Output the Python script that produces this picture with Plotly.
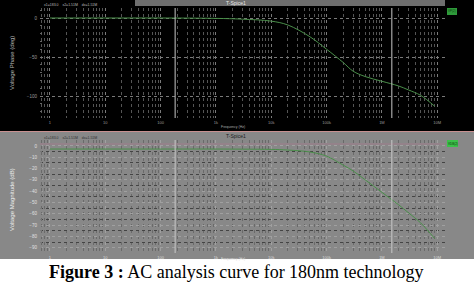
import plotly.graph_objects as go

# ---- data ----
freq_hz = [1, 10, 100, 1e3, 3e3, 1e4, 2e4, 5e4, 1e5, 2e5, 3e5, 5e5, 1e6, 2e6, 3e6, 5e6, 9e6]
phase_deg = [0, 0, 0, -0.5, -1.5, -4, -9, -24, -40, -57, -68, -75, -81, -87, -92, -99, -113]
mag_db = [-2.7, -2.7, -2.7, -2.7, -2.8, -3.0, -3.6, -5.3, -9, -17, -22, -30, -41, -52, -59, -68, -82]

x_tickvals = [1, 10, 100, 1e3, 1e4, 1e5, 1e6, 1e7]
x_ticktext = ["1", "10", "100", "1k", "10k", "100k", "1M", "10M"]
phase_ticks = [0, -50, -100]
mag_ticks = [0, -10, -20, -30, -40, -50, -60, -70, -80, -90]
cursor_hz = [183.0, 1.51e6]

W, H = 474, 282
def py(p):
    return 1 - p / H
def px(p):
    return p / W

fig = go.Figure()
fig.add_trace(go.Scatter(x=freq_hz, y=phase_deg, mode="lines", line=dict(color="#4a8f4a", width=1, shape="spline"),
                         xaxis="x", yaxis="y", showlegend=False))
fig.add_trace(go.Scatter(x=freq_hz, y=mag_db, mode="lines", line=dict(color="#4a8f4a", width=1, shape="spline"),
                         xaxis="x2", yaxis="y2", showlegend=False))

xcommon = dict(type="log", range=[-0.18, 7.14], tickvals=x_tickvals, ticktext=x_ticktext,
               showgrid=True, griddash="dot", gridwidth=1, zeroline=False, showline=False,
               ticks="", ticklabelstandoff=1,
               minor=dict(dtick="D1", showgrid=True, griddash="dot", gridwidth=1))

fig.update_layout(
    width=W, height=H, margin=dict(l=0, r=0, t=0, b=0),
    paper_bgcolor="white", plot_bgcolor="black",
    xaxis=dict(**xcommon, domain=[px(40), px(445)], anchor="y",
               gridcolor="#7a7a7a", minor_gridcolor="#555555",
               tickfont=dict(size=4, color="#9a9a9a", family="Liberation Sans")),
    yaxis=dict(domain=[py(118), py(8)], range=[-128, 12.8], anchor="x", tickvals=phase_ticks,
               showgrid=True, gridcolor="#7a7a7a", griddash="dot", zeroline=False, showline=False,
               ticks="inside", ticklen=2, tickcolor="#777", ticklabelstandoff=2,
               minor=dict(dtick=10, ticks="inside", ticklen=1.5, tickcolor="#666", showgrid=False),
               tickfont=dict(size=4.5, color="#9a9a9a", family="Liberation Sans")),
    xaxis2=dict(**xcommon, domain=[px(40), px(445)], anchor="y2",
                gridcolor="#a0a0a0", minor_gridcolor="#6a6a6a",
                tickfont=dict(size=4, color="#dddddd", family="Liberation Sans")),
    yaxis2=dict(domain=[py(253), py(140)], range=[-94.7, 5.3], anchor="x2", tickvals=mag_ticks,
                showgrid=True, gridcolor="#a0a0a0", griddash="dot", zeroline=False, showline=False,
                ticks="inside", ticklen=2, tickcolor="#888", ticklabelstandoff=2,
                minor=dict(dtick=5, ticks="inside", ticklen=1.5, tickcolor="#777", showgrid=True,
                           gridcolor="#444444", griddash="dot"),
                tickfont=dict(size=4.5, color="#e0e0e0", family="Liberation Sans")),
)

shapes = [
    dict(type="rect", xref="paper", yref="paper", x0=0, x1=1, y0=py(131), y1=1,
         fillcolor="black", line_width=0, layer="below"),
    dict(type="rect", xref="paper", yref="paper", x0=px(135), x1=px(445), y0=py(6), y1=1,
         fillcolor="#6e6e6e", line_width=0, layer="below"),
    dict(type="rect", xref="paper", yref="paper", x0=0, x1=1, y0=py(259), y1=py(131),
         fillcolor="#888888", line_width=0, layer="below"),
    dict(type="line", xref="paper", yref="paper", x0=0, x1=1, y0=py(131.5), y1=py(131.5),
         line=dict(color="#c89090", width=1)),
    dict(type="line", xref="paper", yref="paper", x0=px(40), x1=px(445), y0=py(144), y1=py(144),
         line=dict(color="#a07c8c", width=1)),
    dict(type="rect", xref="paper", yref="paper", x0=px(447), x1=px(457), y0=py(15), y1=py(8),
         fillcolor="#2e9a3a", line_width=0),
    dict(type="rect", xref="paper", yref="paper", x0=px(447), x1=px(458), y0=py(147), y1=py(140),
         fillcolor="#3cc04a", line_width=0),
]
for xr, yr in (("x", "y domain"), ("x2", "y2 domain")):
    for c in cursor_hz:
        shapes.append(dict(type="line", xref=xr, yref=yr, x0=c, x1=c, y0=0, y1=1,
                           line=dict(color="#c8c8c8", width=1)))
fig.update_layout(shapes=shapes)

ann = []
def txt(x, y, s, size, color, family="Liberation Sans", angle=0, xanchor="center"):
    ann.append(dict(xref="paper", yref="paper", x=px(x), y=py(y), text=s, showarrow=False,
                    font=dict(size=size, color=color, family=family), textangle=angle,
                    xanchor=xanchor, yanchor="middle"))

txt(236, 3, "T-Spice1", 5, "#e8e8e8")
txt(236, 135.5, "T-Spice1", 5, "#202020")
txt(42, 5, "x1=183.0    x2=1.51M    dx=1.51M", 3.5, "#bbbbbb", xanchor="left")
txt(42, 138, "x1=183.0    x2=1.51M    dx=1.51M", 3.5, "#303030", xanchor="left")
txt(233, 126.5, "Frequency (Hz)", 3.5, "#aaaaaa")
txt(233, 259, "Frequency (Hz)", 3.5, "#dddddd")
txt(12, 63, "Voltage Phase (deg)", 6, "#b8b8b8", angle=-90)
txt(12, 200, "Voltage Magnitude (dB)", 6, "#eeeeee", angle=-90)
txt(452, 11.5, "VP(2)", 3, "#0a3a0a")
txt(452.5, 143.5, "VDB(2)", 3, "#0a3a0a")
txt(236, 271.5, "<b>Figure 3 :</b> AC analysis curve for 180nm technology", 18, "black",
    family="Liberation Serif")
fig.update_layout(annotations=ann)

fig.write_html("out.html")
